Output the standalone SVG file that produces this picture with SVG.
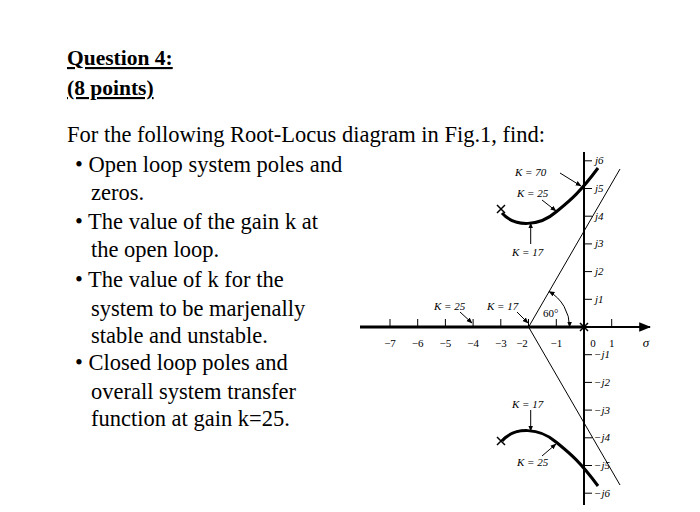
<svg xmlns="http://www.w3.org/2000/svg" width="700" height="512" viewBox="0 0 700 512">
<style>
.t{font-family:"Liberation Serif",serif;font-size:22.5px;fill:#000}
.h{font-family:"Liberation Serif",serif;font-size:21.5px;font-weight:bold;text-decoration:underline}
.s{font-family:"Liberation Serif",serif;font-size:11px;fill:#000}
.k{font-family:"Liberation Serif",serif;font-size:11px;font-style:italic}
.ax{stroke:#000;stroke-width:2;fill:none}
.thin{stroke:#000;stroke-width:1;fill:none}
.loc{stroke:#000;stroke-width:3;fill:none}
</style>
<defs>
<marker id="a" viewBox="0 0 10 10" refX="9" refY="5" markerWidth="6" markerHeight="6" orient="auto-start-reverse"><path d="M0,1 L10,5 L0,9 z"/></marker>
</defs>
<rect width="700" height="512" fill="#fff"/>
<g id="text">
<text class="h" x="67" y="65">Question 4: </text>
<text class="h" x="67" y="95">(8 points)</text>
<text class="t" x="67" y="142">For the following Root-Locus diagram in Fig.1, find:</text>
<text class="t" x="75" y="172">• Open loop system poles and</text>
<text class="t" x="91" y="200">zeros.</text>
<text class="t" x="75" y="229">• The value of the gain k at</text>
<text class="t" x="91" y="257">the open loop.</text>
<text class="t" x="75" y="287">• The value of k for the</text>
<text class="t" x="91" y="316">system to be marjenally</text>
<text class="t" x="91" y="343">stable and unstable.</text>
<text class="t" x="75" y="370">• Closed loop poles and</text>
<text class="t" x="91" y="399">overall system transfer</text>
<text class="t" x="91" y="426">function at gain k=25.</text>
</g>
<g id="axes">
<line class="ax" x1="360" y1="327" x2="650" y2="327" marker-end="url(#a)"/>
<line class="loc" x1="360" y1="327" x2="584" y2="327"/>
<line class="ax" x1="584" y1="152" x2="584" y2="505"/>
<g class="thin">
<path d="M390,327v-8M417.7,327v-8M445.4,327v-8M473.1,327v-8M500.8,327v-8M528.5,327v-8M556.3,327v-8M611.7,327v-8"/>
<path d="M584,160.8h8M584,188.5h8M584,216.2h8M584,243.9h8M584,271.6h8M584,299.3h8M584,354.7h8M584,382.4h8M584,410.1h8M584,437.8h8M584,465.5h8M584,493.2h8"/>
</g>
<g class="s" text-anchor="middle">
<text x="390" y="347">−7</text><text x="417.7" y="347">−6</text><text x="445.4" y="347">−5</text><text x="473.1" y="347">−4</text><text x="500.8" y="347">−3</text><text x="522" y="347">−2</text><text x="556.3" y="347">−1</text><text x="593" y="347">0</text><text x="611.7" y="347">1</text>
<text x="646" y="347" font-style="italic" font-size="13">σ</text>
</g>
<g class="s" font-style="italic">
<text x="595" y="164">j6</text><text x="595" y="192">j5</text><text x="595" y="220">j4</text><text x="595" y="247">j3</text><text x="595" y="275">j2</text><text x="595" y="303">j1</text>
<text x="594" y="358">−j1</text><text x="594" y="386">−j2</text><text x="594" y="414">−j3</text><text x="594" y="441">−j4</text><text x="594" y="469">−j5</text><text x="594" y="497">−j6</text>
</g>
</g>
<g id="locus">
<path class="loc" d="M502,213 C515,228 540,226 556,212 C568,202 578,195 598,168"/>
<path class="loc" d="M502,441 C515,426 540,428 556,442 C568,452 578,459 598,486"/>
<path d="M497,205l8,8M505,205l-8,8M497,437l8,8M505,437l-8,8M580,323l8,8M588,323l-8,8" stroke="#000" stroke-width="1.5"/>
<line class="thin" x1="528.6" y1="327" x2="620" y2="169"/>
<line class="thin" x1="528.6" y1="327" x2="620" y2="485"/>
<path class="thin" d="M549.1,291.5 A41,41 0 0 1 569.6,327" marker-start="url(#a)" marker-end="url(#a)"/>
</g>
<g id="labels">
<text class="k" x="515" y="176">K = 70</text>
<text class="k" x="517" y="197">K = 25</text>
<text class="k" x="512" y="256">K = 17</text>
<text class="k" x="434" y="310">K = 25</text>
<text class="k" x="487" y="310">K = 17</text>
<text class="s" x="543" y="317">60°</text>
<text class="k" x="512" y="408">K = 17</text>
<text class="k" x="517" y="466">K = 25</text>
</g>
<g id="connectors" class="thin">
<line x1="560" y1="173" x2="581" y2="186" marker-end="url(#a)"/>
<line x1="542" y1="200" x2="556" y2="211" marker-end="url(#a)"/>
<line x1="530.7" y1="244" x2="530.7" y2="223" marker-end="url(#a)"/>
<line x1="460" y1="312" x2="472" y2="323" marker-end="url(#a)"/>
<line x1="517" y1="312" x2="528" y2="323" marker-end="url(#a)"/>
<line x1="530.7" y1="410" x2="530.7" y2="431" marker-end="url(#a)"/>
<line x1="542" y1="456" x2="556" y2="444" marker-end="url(#a)"/>
</g>
</svg>
